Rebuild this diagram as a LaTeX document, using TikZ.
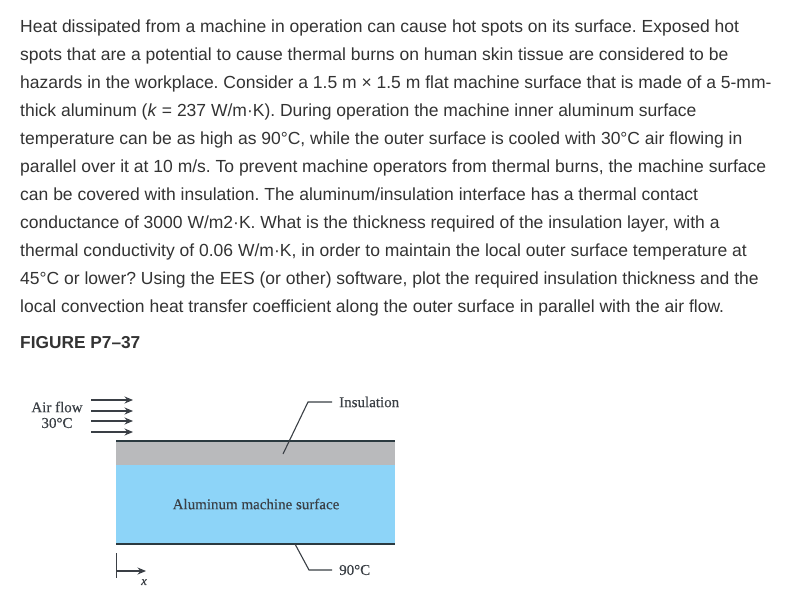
\documentclass[tikz,border=0pt]{standalone}
\usepackage{fontspec}
\setmainfont{Liberation Sans}
\newfontfamily\figserif[FakeBold=0.3]{Liberation Serif}
\usetikzlibrary{arrows.meta}
\frenchspacing
\definecolor{bodytext}{HTML}{333333}
\definecolor{figtext}{HTML}{3A3F45}
\definecolor{insul}{HTML}{B9BABC}
\definecolor{alum}{HTML}{8DD4F8}
\definecolor{edgeline}{HTML}{2B3A40}
\tikzset{
  para/.style={anchor=base west,inner sep=0pt,text=bodytext,font=\fontsize{17.5}{20}\selectfont},
  head/.style={anchor=base west,inner sep=0pt,text=bodytext,font=\fontsize{17.3}{20}\selectfont\bfseries},
  figlabel/.style={inner sep=0pt,text=figtext,font=\figserif\fontsize{15}{16}\selectfont},
  leader/.style={draw=figtext,line width=1.1pt},
  flow/.style={draw=figtext,line width=1.1pt,-{Stealth[length=8.5pt,width=7pt]}},
  plate/.style={draw=edgeline,line width=1.2pt}
}
\begin{document}
\begin{tikzpicture}[x=1pt,y=-1pt]
\useasboundingbox (0,0) rectangle (794,613);
\fill[white] (0,0) rectangle (794,613);
\node[para] (l1) at (20,32) {Heat dissipated from a machine in operation can cause hot spots on its surface. Exposed hot};
\node[para] (l2) at (20,60) {spots that are a potential to cause thermal burns on human skin tissue are considered to be};
\node[para] (l3) at (20,88) {hazards in the workplace. Consider a 1.5 m × 1.5 m flat machine surface that is made of a 5-mm-};
\node[para] (l4) at (20,116) {thick aluminum (\textit{k} = 237 W/m·K). During operation the machine inner aluminum surface};
\node[para] (l5) at (20,144) {temperature can be as high as 90°C, while the outer surface is cooled with 30°C air flowing in};
\node[para] (l6) at (20,172) {parallel over it at 10 m/s. To prevent machine operators from thermal burns, the machine surface};
\node[para] (l7) at (20,200) {can be covered with insulation. The aluminum/insulation interface has a thermal contact};
\node[para] (l8) at (20,228) {conductance of 3000 W/m2·K. What is the thickness required of the insulation layer, with a};
\node[para] (l9) at (20,256) {thermal conductivity of 0.06 W/m·K, in order to maintain the local outer surface temperature at};
\node[para] (l10) at (20,284) {45°C or lower? Using the EES (or other) software, plot the required insulation thickness and the};
\node[para] (l11) at (20,312) {local convection heat transfer coefficient along the outer surface in parallel with the air flow.};
\node[head] (fig) at (20,348) {FIGURE P7–37};
% layers
\fill[insul] (116,441) rectangle (395,465);
\fill[alum] (116,465) rectangle (395,544);
\draw[plate] (116,441) coordinate (tl) -- (395,441) coordinate (tr);
\draw[plate] (116,544) coordinate (bl) -- (395,544) coordinate (br);
% air flow
\node[figlabel] (air) at (57,407) {Air flow};
\node[figlabel] (airt) at (57,423) {30°C};
\foreach \n/\y in {a/400,b/411,c/421,d/432}{
  \coordinate (\n0) at (91,\y);
  \coordinate (\n1) at (133,\y);
  \draw[flow] (\n0) -- (\n1);
}
% labels
\node[figlabel,anchor=west] (ins) at (339,402) {Insulation};
\node[figlabel] (alumlab) at (256,504) {Aluminum machine surface};
\node[figlabel,anchor=west] (hot) at (339,570) {90°C};
% leaders
\coordinate (insp) at (283,454);
\coordinate (insk) at (308,402);
\coordinate (inse) at (332,402);
\draw[leader] (insp) -- (insk) -- (inse);
\coordinate (hotp) at (295,544);
\coordinate (hotk) at (309,570);
\coordinate (hote) at (332,570);
\draw[leader] (hotp) -- (hotk) -- (hote);
% axis
\coordinate (yt) at (116.5,553);
\coordinate (yb) at (116.5,578);
\coordinate (xs) at (116.5,571);
\coordinate (xe) at (146,571);
\draw[leader] (yt) -- (yb);
\draw[flow] (xs) -- (xe);
\node[figlabel,font=\figserif\itshape\fontsize{13}{14}\selectfont] (xl) at (144,582) {x};
\end{tikzpicture}
\end{document}
